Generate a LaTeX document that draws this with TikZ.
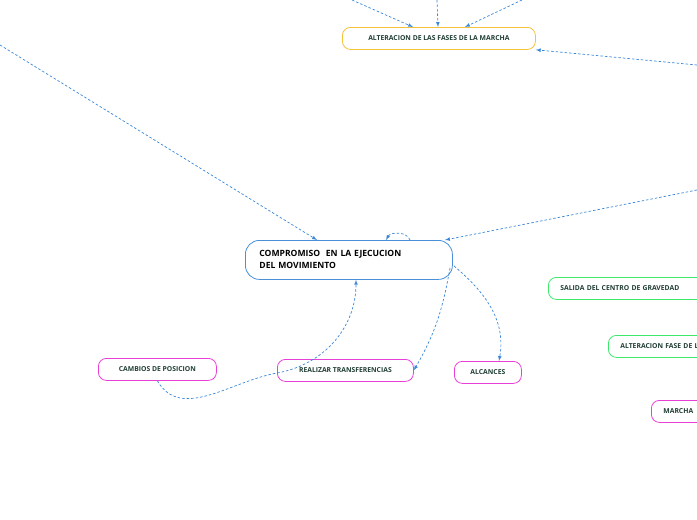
\documentclass[tikz,border=0pt]{standalone}
\usepackage{fontspec}
\setmainfont{Open Sans}
\begin{document}
\begin{tikzpicture}[x=1pt,y=-1pt,
  box/.style={draw,rounded corners=8pt,line width=0.8pt,font=\bfseries\fontsize{6.8}{8}\selectfont,text=txt,inner xsep=6pt,minimum height=22pt,anchor=north west},
  conn/.style={draw=lnk,dashed,line width=0.7pt,dash pattern=on 2.5pt off 2pt,-{latex}}]
\definecolor{lnk}{HTML}{3A86D8}
\definecolor{txt}{HTML}{1F3D33}
\definecolor{cb}{HTML}{4A90D9}
\definecolor{org}{HTML}{F5C23A}
\definecolor{mag}{HTML}{E83FD6}
\definecolor{grn}{HTML}{3EE86A}
\path[use as bounding box] (0,0) rectangle (697,520);
\clip (0,0) rectangle (697,520);
\node[box,draw=cb,rounded corners=14pt,minimum width=207pt,minimum height=39pt,inner xsep=14pt,text width=179pt,align=left,text=black,font=\bfseries\fontsize{8.6}{12}\selectfont] (c) at (245,240) {COMPROMISO\ \ EN LA EJECUCION\\DEL MOVIMIENTO};
\node[box,draw=org,minimum width=193pt] (alt) at (342,27) {ALTERACION DE LAS FASES DE LA MARCHA};
\node[box,draw=mag,minimum width=118pt] (cam) at (98,358) {CAMBIOS DE POSICION};
\node[box,draw=mag,minimum width=136pt] (rt) at (277,359) {REALIZAR TRANSFERENCIAS};
\node[box,draw=mag,minimum width=67pt] (alc) at (454,361) {ALCANCES};
\node[box,draw=grn,inner xsep=12pt,text width=180pt,align=left] (sal) at (548,277) {SALIDA DEL CENTRO DE GRAVEDAD};
\node[box,draw=grn,inner xsep=12pt,text width=160pt,align=left] (af) at (608,335) {ALTERACION FASE DE LA MARCHA};
\node[box,draw=mag,inner xsep=12pt,text width=80pt,align=left] (mar) at (651,400) {MARCHA};
\coordinate (p1) at (0,45);
\coordinate (p2) at (697,190);
\coordinate (p3) at (697,65);
\coordinate (t1) at (352,0);
\coordinate (t2) at (437,0);
\coordinate (t3) at (522,0);
\draw[conn] (p1) -- (c.north west -| 317,0);
\draw[conn] (p2) -- (c.north east -| 445,0);
\draw[conn] (410,240) to[out=110,in=60] (c.north west -| 386,0);
\draw[conn] (p3) -- (alt.south east);
\draw[conn] (t1) -- (alt.north west -| 413,0);
\draw[conn] (t2) -- (alt.north west -| 438,0);
\draw[conn] (t3) -- (alt.north west -| 465,0);
\draw[conn] (cam.south) to[out=-60,in=190] (277,373) to[out=10,in=-90] (c.south west -| 356,0);
\draw[conn] (450,268) to[out=-100,in=60] (rt.east);
\draw[conn] (454,266) to[out=-40,in=80] (alc.north -| 499,0);
\end{tikzpicture}
\end{document}
